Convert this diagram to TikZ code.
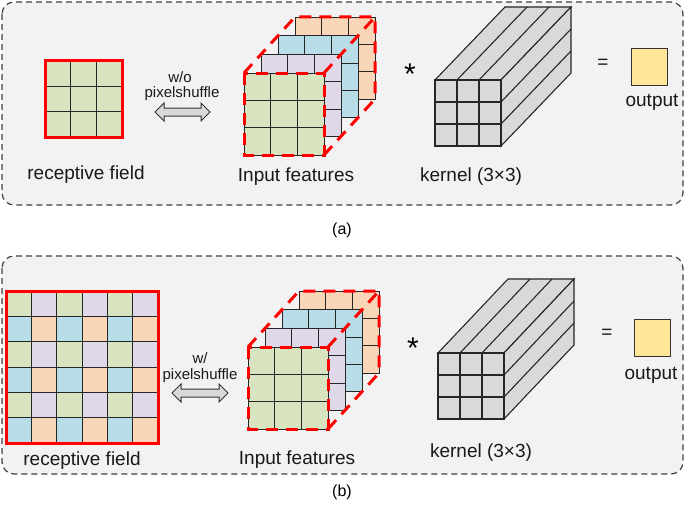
\documentclass[tikz,border=0pt]{standalone}
\usepackage{fontspec}
\setmainfont{Liberation Sans}
\definecolor{cgreen}{HTML}{D8E3BF}
\definecolor{cpurple}{HTML}{DED8E8}
\definecolor{cblue}{HTML}{B7DDE8}
\definecolor{corange}{HTML}{FAD6B8}
\definecolor{panelbg}{HTML}{F2F2F2}
\definecolor{kgray}{HTML}{D9D9D9}
\definecolor{outyellow}{HTML}{FFE699}
\definecolor{edgedark}{HTML}{404040}
\tikzset{
  panel/.style={draw=edgedark, fill=panelbg, line width=1.2pt, dash pattern=on 6pt off 4pt, rounded corners=12pt},
  cellline/.style={draw=black!85, line width=0.9pt},
  redframe/.style={draw=red, line width=3pt},
  reddash/.style={draw=red, line width=3pt, dash pattern=on 12pt off 8pt},
  kline/.style={draw=black!85, line width=1.1pt},
  lbl/.style={font=\fontsize{19}{22}\selectfont, text=black!90, inner sep=0pt},
  small/.style={font=\fontsize{15}{18}\selectfont, text=black!90, inner sep=0pt},
  arrowbox/.style={draw=black!80, fill=kgray, line width=1pt},
  outbox/.style={draw=black!80, fill=outyellow, line width=1pt}
}
% one feature layer: x, y (top-left), colour
\newcommand\featlayer[3]{%
  \foreach \i in {0,1,2}{\foreach \j in {0,1,2}{%
    \filldraw[fill=#3, cellline] ({#1+\i*26.667},{#2+\j*27.333}) rectangle ++(26.667,27.333);}}}
% the cube of four layers, green front top-left at (#1,#2)
\newcommand\featcube[2]{%
  \featlayer{#1+51}{#2-56}{corange}
  \featlayer{#1+34}{#2-37.3}{cblue}
  \featlayer{#1+17}{#2-18.7}{cpurple}
  \featlayer{#1}{#2}{cgreen}
  \draw[reddash] (#1,#2) rectangle ++(80,82);
  \draw[reddash] (#1,#2) -- ({#1+51},{#2-56}) -- ({#1+131},{#2-56}) -- ({#1+131},{#2+26});
  \draw[reddash] ({#1+80},#2) -- ({#1+131},{#2-56});
  \draw[reddash] ({#1+80},{#2+82}) -- ({#1+131},{#2+26});
}
% the kernel block, front top-left at (#1,#2)
\newcommand\kernelblock[4]{%
  \filldraw[fill=kgray, kline] (#1,#2) -- ({#1+#3},{#2-#4}) -- ({#1+66+#3},{#2-#4}) -- ({#1+66},#2) -- cycle;
  \filldraw[fill=kgray, kline] ({#1+66},#2) -- ({#1+66+#3},{#2-#4}) -- ({#1+66+#3},{#2+66-#4}) -- ({#1+66},{#2+66}) -- cycle;
  \foreach \k in {1,2}{%
    \draw[kline] ({#1+22*\k},#2) -- ({#1+22*\k+#3},{#2-#4});
    \draw[kline] ({#1+66},{#2+22*\k}) -- ({#1+66+#3},{#2+22*\k-#4});}
  \foreach \i in {0,1,2}{\foreach \j in {0,1,2}{%
    \filldraw[fill=kgray, kline] ({#1+\i*22},{#2+\j*22}) rectangle ++(22,22);}}
}
% double arrow centred at (#1,#2), half length #3
\newcommand\dblarrow[3]{%
  \filldraw[arrowbox] ({#1-#3},#2) -- ({#1-#3+9},{#2-9}) -- ({#1-#3+9},{#2-4}) -- ({#1+#3-9},{#2-4}) -- ({#1+#3-9},{#2-9}) -- ({#1+#3},#2) -- ({#1+#3-9},{#2+9}) -- ({#1+#3-9},{#2+4}) -- ({#1-#3+9},{#2+4}) -- ({#1-#3+9},{#2+9}) -- cycle;}
\begin{document}
\begin{tikzpicture}[x=1pt,y=-1pt]
\useasboundingbox (0,0) rectangle (685,511);
\fill[white] (0,0) rectangle (685,511);
% ---------------- panel (a)
\draw[panel] (2,2) rectangle (683,205);
\foreach \i in {0,1,2}{\foreach \j in {0,1,2}{%
  \filldraw[fill=cgreen, cellline] ({45+\i*25.667},{61+\j*25.333}) rectangle ++(25.667,25.333);}}
\draw[redframe] (45,61) rectangle (122,137);
\node[lbl] (rfa) at (86,175) {receptive field};
\node[small] (woa) at (180,77) {w/o};
\node[small] (psa) at (182,94) {pixelshuffle};
\dblarrow{182.5}{112}{27.5}
\featcube{244}{73}
\node[lbl] (ifa) at (296,177) {Input features};
\node[font=\fontsize{30}{30}\selectfont, inner sep=0pt] (stara) at (410,74) {*};
\kernelblock{435}{80}{70}{73}
\node[lbl] (kna) at (471,177) {kernel (3×3)};
\node[lbl] (eqa) at (603,64) {=};
\filldraw[outbox] (631,49) rectangle (667,85);
\node[lbl] (outa) at (652,102) {output};
\node[font=\fontsize{16}{18}\selectfont, inner sep=0pt] (capa) at (342,230) {(a)};
% ---------------- panel (b)
\draw[panel] (2,256) rectangle (683,474);
\foreach \i in {0,...,5}{\foreach \j in {0,...,5}{%
  \pgfmathsetmacro\pc{int(mod(\i,2)+2*mod(\j,2))}%
  \ifcase\pc\relax \def\cc{cgreen}\or \def\cc{cpurple}\or \def\cc{cblue}\else \def\cc{corange}\fi
  \filldraw[fill=\cc, cellline] ({6+\i*25.333},{291+\j*25.333}) rectangle ++(25.333,25.333);}}
\draw[redframe] (6,291) rectangle (158,443);
\node[lbl] (rfb) at (82,461) {receptive field};
\node[small] (wb) at (200,358) {w/};
\node[small] (psb) at (200,376) {pixelshuffle};
\dblarrow{200}{393}{28}
\featcube{248}{347}
\node[lbl] (ifb) at (297,460) {Input features};
\node[font=\fontsize{30}{30}\selectfont, inner sep=0pt] (starb) at (413,348) {*};
\kernelblock{438}{353}{70}{74}
\node[lbl] (knb) at (481,453) {kernel (3×3)};
\node[lbl] (eqb) at (607,334) {=};
\filldraw[outbox] (634,319) rectangle (670,356);
\node[lbl] (outb) at (651,375) {output};
\node[font=\fontsize{16}{18}\selectfont, inner sep=0pt] (capb) at (342,492) {(b)};
\end{tikzpicture}
\end{document}
